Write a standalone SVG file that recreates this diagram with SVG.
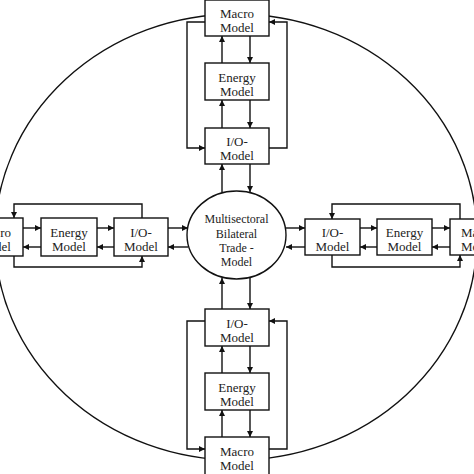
<svg xmlns="http://www.w3.org/2000/svg" width="474" height="474" viewBox="0 0 474 474">
<defs>
<style>
.box{fill:#fff;stroke:#111;stroke-width:1.4}
.t{font-family:"Liberation Serif","Times New Roman",serif;font-size:13px;fill:#222;text-anchor:middle}
.te{font-family:"Liberation Serif","Times New Roman",serif;font-size:12px;fill:#222;text-anchor:middle}
.c{fill:none;stroke:#111;stroke-width:1.4}
</style>
<marker id="ah" viewBox="0 0 10 10" refX="10" refY="5" markerWidth="6" markerHeight="6" markerUnits="userSpaceOnUse" orient="auto">
<path d="M0,0 L10,5 L0,10 z" fill="#111"/>
</marker>
</defs>
<rect width="474" height="474" fill="#fff"/>
<ellipse id="outer" cx="236" cy="237" rx="241" ry="223" fill="none" stroke="#111" stroke-width="1.4"/>
<g id="connectors" class="c" marker-end="url(#ah)">
<!-- top column -->
<path d="M222,63 V36"/>
<path d="M250,36 V63"/>
<path d="M222,128 V100"/>
<path d="M250,100 V128"/>
<path d="M222,192 V164"/>
<path d="M250,164 V192"/>
<path d="M205,22 H187 V148 H205"/>
<path d="M269,148 H287 V22 H269"/>
<!-- bottom column -->
<path d="M222,309 V278"/>
<path d="M250,278 V309"/>
<path d="M222,373 V346"/>
<path d="M250,346 V373"/>
<path d="M222,437 V410"/>
<path d="M250,410 V437"/>
<path d="M205,321 H187 V449 H205"/>
<path d="M269,449 H287 V321 H269"/>
<!-- left row -->
<path d="M23,228 H41"/>
<path d="M97,228 H114"/>
<path d="M168,228 H188"/>
<path d="M41,247 H23"/>
<path d="M114,247 H97"/>
<path d="M188,247 H168"/>
<path d="M142,218 V204 H14 V218"/>
<path d="M14,256 V267 H142 V256"/>
<!-- right row -->
<path d="M286,228 H305"/>
<path d="M360,228 H377"/>
<path d="M432,228 H450"/>
<path d="M305,247 H286"/>
<path d="M377,247 H360"/>
<path d="M450,247 H432"/>
<path d="M460,219 V204 H332 V219"/>
<path d="M332,255 V267 H460 V255"/>
</g>
<g id="trade">
<ellipse cx="236.5" cy="235" rx="49.5" ry="44" class="box"/>
<text class="te" x="236.5" y="223">Multisectoral</text>
<text class="te" x="236.5" y="238">Bilateral</text>
<text class="te" x="236.5" y="252">Trade -</text>
<text class="te" x="236.5" y="266">Model</text>
</g>
<g id="top-macro"><rect class="box" x="205" y="0" width="64" height="36"/><text class="t" x="237" y="18">Macro</text><text class="t" x="237" y="32">Model</text></g>
<g id="top-energy"><rect class="box" x="205" y="63" width="64" height="37"/><text class="t" x="237" y="82">Energy</text><text class="t" x="237" y="96">Model</text></g>
<g id="top-io"><rect class="box" x="205" y="128" width="64" height="36"/><text class="t" x="237" y="146">I/O-</text><text class="t" x="237" y="160">Model</text></g>
<g id="bottom-io"><rect class="box" x="205" y="309" width="64" height="37"/><text class="t" x="237" y="328">I/O-</text><text class="t" x="237" y="342">Model</text></g>
<g id="bottom-energy"><rect class="box" x="205" y="373" width="64" height="37"/><text class="t" x="237" y="392">Energy</text><text class="t" x="237" y="406">Model</text></g>
<g id="bottom-macro"><rect class="box" x="205" y="437" width="64" height="38"/><text class="t" x="237" y="456">Macro</text><text class="t" x="237" y="470">Model</text></g>
<g id="left-macro"><rect class="box" x="-35" y="218" width="58" height="38"/><text class="t" x="-6" y="237">Macro</text><text class="t" x="-6" y="251">Model</text></g>
<g id="left-energy"><rect class="box" x="41" y="218" width="56" height="38"/><text class="t" x="69" y="237">Energy</text><text class="t" x="69" y="251">Model</text></g>
<g id="left-io"><rect class="box" x="114" y="218" width="54" height="38"/><text class="t" x="141" y="237">I/O-</text><text class="t" x="141" y="251">Model</text></g>
<g id="right-io"><rect class="box" x="305" y="219" width="55" height="36"/><text class="t" x="332.5" y="237">I/O-</text><text class="t" x="332.5" y="251">Model</text></g>
<g id="right-energy"><rect class="box" x="377" y="219" width="55" height="36"/><text class="t" x="404.5" y="237">Energy</text><text class="t" x="404.5" y="251">Model</text></g>
<g id="right-macro"><rect class="box" x="450" y="219" width="58" height="36"/><text class="t" x="478" y="237">Macro</text><text class="t" x="478" y="251">Model</text></g>
</svg>
